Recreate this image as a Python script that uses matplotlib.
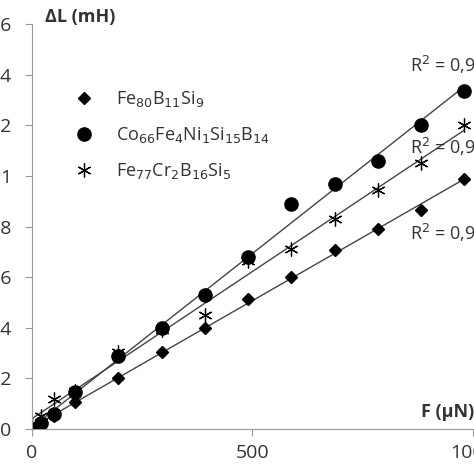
import numpy as np
import matplotlib.pyplot as plt

# force (uN) and inductance change (mH) for the three ribbons
force = [0, 19.6, 49, 98, 196, 294, 392, 490, 588, 686, 784, 882, 980]
dl_fe80 = [0, 0.02, 0.05, 0.108, 0.203, 0.306, 0.401, 0.513, 0.602, 0.708, 0.79, 0.865, 0.987]
dl_co66 = [0, 0.025, 0.06, 0.147, 0.29, 0.40, 0.53, 0.68, 0.89, 0.97, 1.06, 1.20, 1.337]
dl_fe77 = [0.02, 0.05, 0.117, 0.15, 0.305, 0.39, 0.45, 0.665, 0.71, 0.83, 0.945, 1.05, 1.20]
r2_labels = ["R$^2$ = 0,99", "R$^2$ = 0,99", "R$^2$ = 0,99"]
r2_y = [1.44, 1.115, 0.775]
yticks = [0, 0.2, 0.4, 0.6, 0.8, 1.0, 1.2, 1.4, 1.6]
yticklabels = ["0", "0,2", "0,4", "0,6", "0,8", "1", "1,2", "1,4", "1,6"]

plt.rcParams['font.family'] = ['Open Sans', 'DejaVu Sans']
fig = plt.figure(figsize=(4.74, 4.74), dpi=100)
ax = fig.add_axes([32/474, 0.095, 441/474, 0.854])

x = np.array(force)
series = [
    (dl_fe80, "D", "Fe$_{80}$B$_{11}$Si$_{9}$", 6.5),
    (dl_co66, "o", "Co$_{66}$Fe$_{4}$Ni$_{1}$Si$_{15}$B$_{14}$", 9.5),
    (dl_fe77, (6, 2, 0), "Fe$_{77}$Cr$_{2}$B$_{16}$Si$_{5}$", 10),
]
for ys, mk, lab, ms in series:
    y = np.array(ys)
    kw = dict(color="black", linestyle="none", marker=mk, markersize=ms, label=lab)
    if isinstance(mk, tuple):
        kw["markeredgewidth"] = 0.9
    ax.plot(x, y, **kw)
    slope, icpt = np.polyfit(x, y, 1)
    xf = np.array([0, x.max()])
    ax.plot(xf, slope * xf + icpt, color="#444444", linewidth=1.0, zorder=1)

for lab, yy in zip(r2_labels, r2_y):
    ax.text(857, yy, lab, fontsize=13, color="#333333", va="center", clip_on=False)

ax.set_xlim(0, 1000)
ax.set_ylim(0, 1.6)
ax.set_xticks([0, 500, 1000])
ax.set_xticklabels(["0", "500", "1000"])
ax.set_yticks(yticks)
ax.set_yticklabels(yticklabels)
ax.tick_params(labelsize=14, colors="#333333", length=5, color="#999999")
ax.tick_params(axis="y", pad=10)
ax.tick_params(axis="x", pad=6)
for s in ["top", "right"]:
    ax.spines[s].set_visible(False)
for s in ["left", "bottom"]:
    ax.spines[s].set_color("#999999")

fig.text(45/474, 1 - 17/474, "ΔL (mH)", fontsize=13, fontweight="bold", color="#333333", va="center")
fig.text(1.0, 1 - 412/474, "F (µN)", fontsize=13, fontweight="bold", color="#333333", va="center", ha="right")

ax.legend(loc="upper left", bbox_to_anchor=(0.04, 0.88), frameon=False, fontsize=13,
          handletextpad=0.8, labelspacing=0.9, labelcolor="#333333")

fig.savefig("out.png", dpi=100)
